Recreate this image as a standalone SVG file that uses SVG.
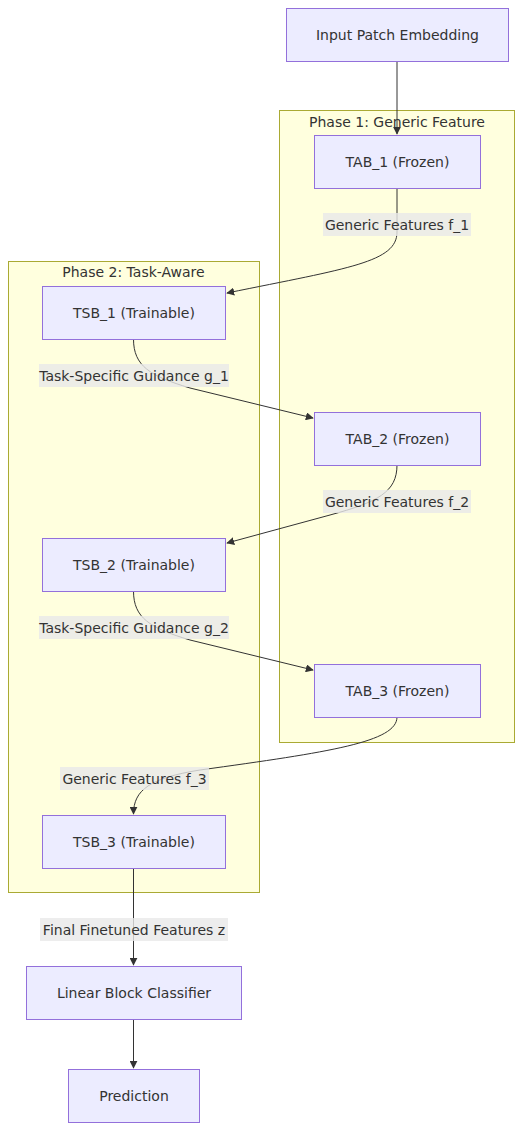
<svg xmlns="http://www.w3.org/2000/svg" width="530" height="1146" viewBox="0 0 530 1146">
<style>
.node rect{fill:#ECECFF;stroke:#9370DB;stroke-width:1}
.cluster rect{fill:#ffffde;stroke:#aaaa33;stroke-width:1}
text{font-family:"DejaVu Sans",Verdana,sans-serif;font-size:14px;fill:#333;text-anchor:middle;dominant-baseline:central}
.edges path{fill:none;stroke:#333;stroke-width:1}
.elbl rect{fill:#e8e8e8;fill-opacity:0.8;stroke:none}
</style>
<defs>
<marker id="arr" viewBox="0 0 10 10" refX="9" refY="5" markerWidth="8" markerHeight="8" orient="auto" markerUnits="userSpaceOnUse">
<path d="M0,0 L10,5 L0,10 z" fill="#333"/>
</marker>
</defs>
<rect width="530" height="1146" fill="#ffffff"/>
<g id="cluster-phase1" class="cluster"><rect x="279.5" y="110.5" width="235" height="632"/><text x="397" y="122">Phase 1: Generic Feature</text></g>
<g id="cluster-phase2" class="cluster"><rect x="8.5" y="261.5" width="251" height="631"/><text x="133.5" y="272">Phase 2: Task-Aware</text></g>
<g class="edges" id="connectors">
<path d="M397,61 V134" marker-end="url(#arr)"/>
<path d="M397,188 V232 C397,262 350,268 227,293" marker-end="url(#arr)"/>
<path d="M133.5,339 C133.5,366 150,376 190,388 L313,418" marker-end="url(#arr)"/>
<path d="M397,465 C397,492 378,502 330,515 L227,543" marker-end="url(#arr)"/>
<path d="M133.5,591 C133.5,618 150,628 190,640 L313,670" marker-end="url(#arr)"/>
<path d="M397,717 C397,742 330,752 200,770 C150,778 133.5,790 133.5,814" marker-end="url(#arr)"/>
<path d="M133.5,868 V965" marker-end="url(#arr)"/>
<path d="M133.5,1019 V1068" marker-end="url(#arr)"/>
</g>
<g class="elbl" id="edge-labels">
<g><rect x="323" y="213" width="148" height="23"/><text x="397" y="224.5">Generic Features f_1</text></g>
<g><rect x="39" y="364" width="190" height="23"/><text x="134" y="375.5">Task-Specific Guidance g_1</text></g>
<g><rect x="323" y="490" width="148" height="23"/><text x="397" y="501.5">Generic Features f_2</text></g>
<g><rect x="39" y="616" width="190" height="23"/><text x="134" y="627.5">Task-Specific Guidance g_2</text></g>
<g><rect x="60" y="767" width="149" height="23"/><text x="134.5" y="778.5">Generic Features f_3</text></g>
<g><rect x="40" y="918" width="188" height="23"/><text x="134" y="929.5">Final Finetuned Features z</text></g>
</g>
<g id="input" class="node"><rect x="286.5" y="8.5" width="222" height="53"/><text x="397.5" y="35">Input Patch Embedding</text></g>
<g id="tab1" class="node"><rect x="314.5" y="135.5" width="166" height="53"/><text x="397.5" y="162">TAB_1 (Frozen)</text></g>
<g id="tsb1" class="node"><rect x="42.5" y="286.5" width="183" height="53"/><text x="134" y="313">TSB_1 (Trainable)</text></g>
<g id="tab2" class="node"><rect x="314.5" y="412.5" width="166" height="53"/><text x="397.5" y="439">TAB_2 (Frozen)</text></g>
<g id="tsb2" class="node"><rect x="42.5" y="538.5" width="183" height="53"/><text x="134" y="565">TSB_2 (Trainable)</text></g>
<g id="tab3" class="node"><rect x="314.5" y="664.5" width="166" height="53"/><text x="397.5" y="691">TAB_3 (Frozen)</text></g>
<g id="tsb3" class="node"><rect x="42.5" y="815.5" width="183" height="53"/><text x="134" y="842">TSB_3 (Trainable)</text></g>
<g id="classifier" class="node"><rect x="26.5" y="966.5" width="215" height="53"/><text x="134" y="993">Linear Block Classifier</text></g>
<g id="prediction" class="node"><rect x="68.5" y="1069.5" width="131" height="53"/><text x="134" y="1096">Prediction</text></g>
</svg>
